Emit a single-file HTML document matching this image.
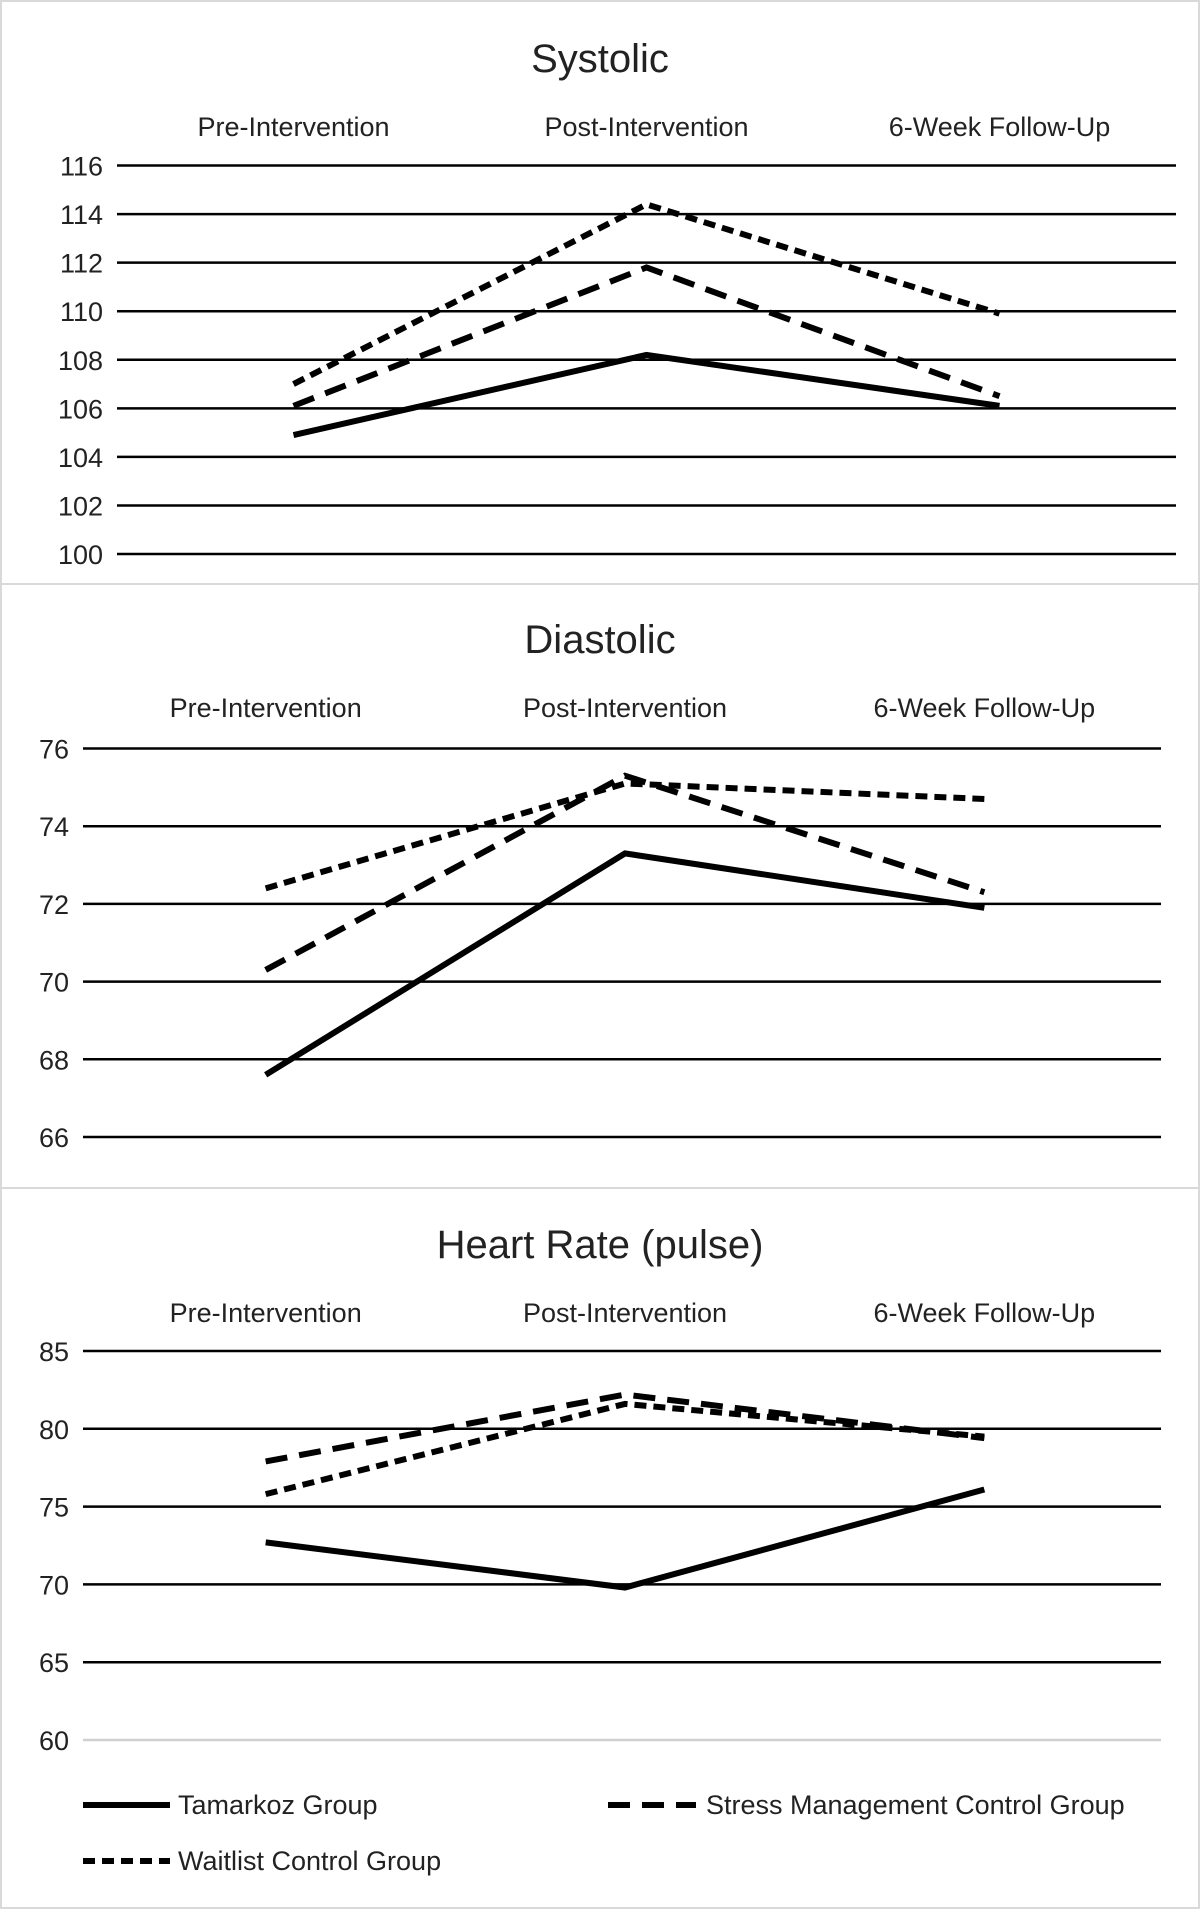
<!DOCTYPE html>
<html><head><meta charset="utf-8"><style>
html,body{margin:0;padding:0;background:#fff}
svg{display:block}
text{font-family:"Liberation Sans",sans-serif;fill:#222}
</style></head><body>
<svg id="chart" width="1200" height="1909" viewBox="0 0 1200 1909" xmlns="http://www.w3.org/2000/svg">
<rect x="1" y="1" width="1198" height="1907" fill="#fff" stroke="#d9d9d9" stroke-width="2"/>
<line x1="0" y1="584" x2="1200" y2="584" stroke="#d9d9d9" stroke-width="2"/>
<line x1="0" y1="1188" x2="1200" y2="1188" stroke="#d9d9d9" stroke-width="2"/>
<g id="legend">
 <g>
  <line x1="83" y1="1805" x2="170" y2="1805" stroke="#000" stroke-width="6"/>
  <text x="178" y="1814" font-size="27">Tamarkoz Group</text>
 </g>
 <g>
  <line x1="608" y1="1805" x2="696" y2="1805" stroke="#000" stroke-width="6" stroke-dasharray="22 12"/>
  <text x="706" y="1814" font-size="27">Stress Management Control Group</text>
 </g>
 <g>
  <line x1="83" y1="1861" x2="170" y2="1861" stroke="#000" stroke-width="6" stroke-dasharray="12 7"/>
  <text x="178" y="1870" font-size="27">Waitlist Control Group</text>
 </g>
</g>
</svg>
<script>
const categories = ["Pre-Intervention","Post-Intervention","6-Week Follow-Up"];
const seriesNames = ["Tamarkoz Group","Stress Management Control Group","Waitlist Control Group"];
const systolicTamarkoz = [104.9, 108.2, 106.1];
const systolicStress = [106.1, 111.8, 106.5];
const systolicWaitlist = [107.0, 114.4, 109.9];
const systolicTicks = [100,102,104,106,108,110,112,114,116];
const diastolicTamarkoz = [67.6, 73.3, 71.9];
const diastolicStress = [70.3, 75.3, 72.3];
const diastolicWaitlist = [72.4, 75.1, 74.7];
const diastolicTicks = [66,68,70,72,74,76];
const pulseTamarkoz = [72.7, 69.8, 76.1];
const pulseStress = [77.9, 82.2, 79.4];
const pulseWaitlist = [75.8, 81.6, 79.5];
const pulseTicks = [60,65,70,75,80,85];

const NS = "http://www.w3.org/2000/svg";
const svg = document.getElementById('chart');
const dashes = [null, "22 12", "12 7"];

function panel(cfg){
  const g = document.createElementNS(NS,'g');
  
  
  svg.appendChild(g);
  const min = cfg.ticks[0], max = cfg.ticks[cfg.ticks.length-1];
  const y = v => cfg.y1 + (max - v) / (max - min) * (cfg.y0 - cfg.y1);
  const step = (cfg.x1 - cfg.x0) / categories.length;
  const x = i => cfg.x0 + step * (i + 0.5) + cfg.shift;
  const t = document.createElementNS(NS,'text');
  
  
  t.setAttribute('x', 600); t.setAttribute('y', cfg.titleY);
  t.setAttribute('font-size', '40'); t.setAttribute('text-anchor', 'middle');
  t.textContent = cfg.title; g.appendChild(t);
  categories.forEach((c,i)=>{
    const ct = document.createElementNS(NS,'text');
    
    
    ct.setAttribute('x', x(i)); ct.setAttribute('y', cfg.catY);
    ct.setAttribute('font-size', '27'); ct.setAttribute('text-anchor', 'middle');
    ct.textContent = c; g.appendChild(ct);
  });
  cfg.ticks.forEach(v=>{
    const l = document.createElementNS(NS,'line');
    
    
    l.setAttribute('x1', cfg.x0); l.setAttribute('x2', cfg.x1);
    l.setAttribute('y1', y(v)); l.setAttribute('y2', y(v));
    l.setAttribute('stroke', (v === min && cfg.lightBase) ? '#d0d0d0' : '#000');
    l.setAttribute('stroke-width', '2.5'); g.appendChild(l);
    const tl = document.createElementNS(NS,'text');
    
    
    tl.setAttribute('x', cfg.x0 - 14); tl.setAttribute('y', y(v) + 10);
    tl.setAttribute('font-size', '27'); tl.setAttribute('text-anchor', 'end');
    tl.textContent = v; g.appendChild(tl);
  });
  cfg.series.forEach((s,k)=>{
    const p = document.createElementNS(NS,'polyline');
    
    
    p.setAttribute('points', s.map((v,i)=>x(i)+','+y(v)).join(' '));
    p.setAttribute('fill', 'none'); p.setAttribute('stroke', '#000');
    p.setAttribute('stroke-width', '6'); p.setAttribute('stroke-linejoin', 'miter');
    if (dashes[k]) p.setAttribute('stroke-dasharray', dashes[k]);
    g.appendChild(p);
  });
}
panel({name:'systolic-panel', title:'Systolic', titleY:72, catY:136, x0:117, x1:1176, y0:554, y1:165.5, shift:0, ticks:systolicTicks, series:[systolicTamarkoz, systolicStress, systolicWaitlist]});
panel({name:'diastolic-panel', title:'Diastolic', titleY:653, catY:717, x0:83, x1:1161, y0:1137, y1:748.5, shift:3, ticks:diastolicTicks, series:[diastolicTamarkoz, diastolicStress, diastolicWaitlist]});
panel({name:'heart-rate-panel', title:'Heart Rate (pulse)', titleY:1258, catY:1322, x0:83, x1:1161, y0:1740, y1:1351, shift:3, ticks:pulseTicks, lightBase:true, series:[pulseTamarkoz, pulseStress, pulseWaitlist]});
</script>
</body></html>
